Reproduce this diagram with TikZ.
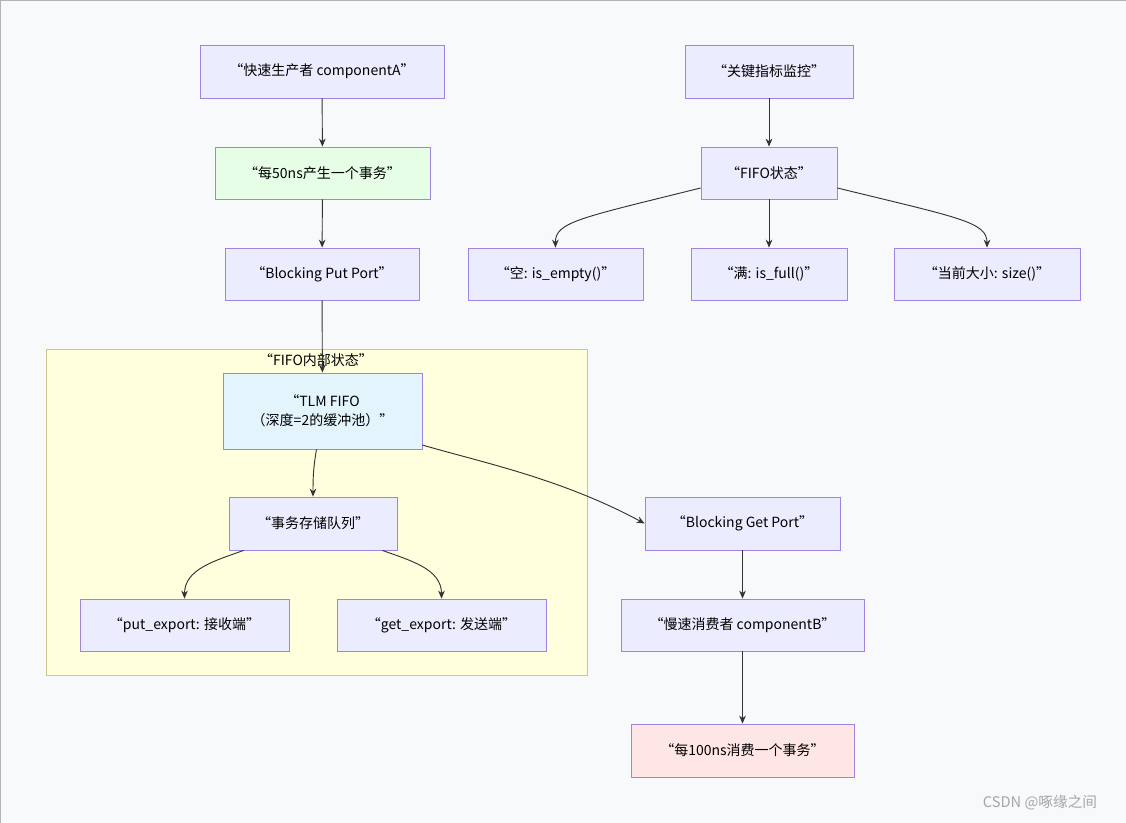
\documentclass[tikz,border=0pt]{standalone}
\usepackage{fontspec}
\setmainfont{Noto Sans CJK SC}
\usetikzlibrary{arrows.meta}
\definecolor{bg}{HTML}{F8F9FB}
\definecolor{nf}{HTML}{ECECFF}
\definecolor{nd}{HTML}{9F85E0}
\definecolor{gf}{HTML}{E6FDE6}
\definecolor{bf}{HTML}{E3F4FD}
\definecolor{pf}{HTML}{FFE6E6}
\definecolor{cf}{HTML}{FFFFDE}
\definecolor{cd}{HTML}{C8C88A}
\definecolor{ed}{HTML}{333333}
\begin{document}
\begin{tikzpicture}[x=0.75pt,y=-0.75pt,
  box/.style={draw=nd,fill=nf,line width=0.6pt,inner sep=0pt,align=center,font=\fontsize{10.5}{14}\selectfont},
  e/.style={draw=ed,line width=0.7pt,-{Stealth[length=6pt,width=5pt]}}]
\useasboundingbox (0,0) rectangle (1126,823);
\fill[bg] (0,0) rectangle (1126,823);
\draw[gray!60] (0.5,0.5) -- (0.5,823) (0.5,0.5) -- (1126,0.5);
\draw[cd,fill=cf,line width=0.7pt] (46,349) rectangle (587,675);
\node[font=\fontsize{10.5}{14}\selectfont] (cl) at (316,360) {“FIFO内部状态”};
\newcommand{\bx}[6]{\node[box,fill=#6,minimum width=#4*0.75pt,minimum height=#5*0.75pt] (#1) at (#2,#3)}
\bx{A}{322}{71.5}{244}{53}{nf} {“快速生产者 componentA”};
\bx{B}{322.5}{173}{215}{52}{gf} {“每50ns产生一个事务”};
\bx{C}{322}{274}{194}{52}{nf} {“Blocking Put Port”};
\bx{D}{322.5}{411}{199}{76}{bf} {“TLM FIFO\\（深度=2的缓冲池）”};
\bx{E}{313}{523.5}{168}{53}{nf} {“事务存储队列”};
\bx{F}{184.5}{625}{209}{52}{nf} {“put\_export: 接收端”};
\bx{G}{441.5}{625}{209}{52}{nf} {“get\_export: 发送端”};
\bx{H}{742.5}{523.5}{195}{53}{nf} {“Blocking Get Port”};
\bx{I}{742.5}{625}{243}{52}{nf} {“慢速消费者 componentB”};
\bx{J}{742.5}{750.5}{223}{53}{pf} {“每100ns消费一个事务”};
\bx{K}{769}{71.5}{168}{53}{nf} {“关键指标监控”};
\bx{L}{769}{173}{136}{52}{nf} {“FIFO状态”};
\bx{M}{555.5}{274}{175}{52}{nf} {“空: is\_empty()”};
\bx{N}{769}{274}{156}{52}{nf} {“满: is\_full()”};
\bx{O}{987}{274}{186}{52}{nf} {“当前大小: size()”};
\draw[e] (A) -- (B);
\draw[e] (B) -- (C);
\draw[e] (C) -- (D);
\draw[e] (D.south) ++(-6,0) coordinate (d1) to[out=-100,in=90] (E.north);
\draw[e] (E.south west) ++(15,0) coordinate (e1) to[out=-160,in=90] (F.north);
\draw[e] (E.south east) ++(-15,0) coordinate (e2) to[out=-20,in=90] (G.north);
\draw[e] (D.east) ++(0,34) coordinate (d2) .. controls (480,462) and (560,478) .. (H.west);
\draw[e] (H) -- (I);
\draw[e] (I) -- (J);
\draw[e] (K) -- (L);
\draw[e] (L.west) ++(0,15) coordinate (l1) .. controls (580,218) and (555,222) .. (M.north);
\draw[e] (L) -- (N);
\draw[e] (L.east) ++(0,15) coordinate (l2) .. controls (960,218) and (987,222) .. (O.north);
\node[font=\fontsize{11}{13}\selectfont,text=gray!70] (wm) at (1040,803) {CSDN @啄缘之间};
\end{tikzpicture}
\end{document}
